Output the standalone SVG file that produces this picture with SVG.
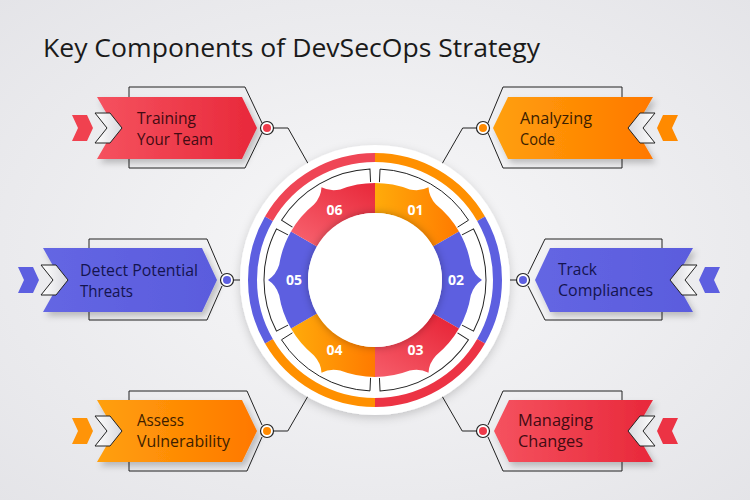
<svg xmlns="http://www.w3.org/2000/svg" width="750" height="500" viewBox="0 0 750 500">
<defs>
<radialGradient id="bg" cx="50%" cy="50%" r="75%">
<stop offset="0" stop-color="#f8f8f9"/>
<stop offset="1" stop-color="#e3e3e7"/>
</radialGradient>
<linearGradient id="redBox" x1="0" y1="0" x2="1" y2="0"><stop offset="0" stop-color="#f5525f"/><stop offset="1" stop-color="#e8283a"/></linearGradient>
<linearGradient id="orangeBox" x1="0" y1="0" x2="1" y2="0"><stop offset="0" stop-color="#ffa00b"/><stop offset="1" stop-color="#ff7800"/></linearGradient>
<linearGradient id="blueBox" x1="0" y1="0" x2="1" y2="0"><stop offset="0" stop-color="#6466e3"/><stop offset="1" stop-color="#5a5cdd"/></linearGradient>
<linearGradient id="chev" x1="0" y1="0" x2="1" y2="0"><stop offset="0" stop-color="#ffffff"/><stop offset="1" stop-color="#d9d9de"/></linearGradient>
<linearGradient id="chevR" x1="1" y1="0" x2="0" y2="0"><stop offset="0" stop-color="#ffffff"/><stop offset="1" stop-color="#d9d9de"/></linearGradient>
<linearGradient id="segOrA" x1="0" y1="0" x2="1" y2="0"><stop offset="0" stop-color="#ffab0a"/><stop offset="1" stop-color="#ff7a00"/></linearGradient>
<linearGradient id="segOrB" x1="1" y1="0" x2="0" y2="0"><stop offset="0" stop-color="#ffab0a"/><stop offset="1" stop-color="#ff7a00"/></linearGradient>
<linearGradient id="segRdA" x1="0" y1="0" x2="1" y2="0"><stop offset="0" stop-color="#f65d6a"/><stop offset="1" stop-color="#e8283a"/></linearGradient>
<linearGradient id="segRdB" x1="1" y1="0" x2="0" y2="0"><stop offset="0" stop-color="#f65d6a"/><stop offset="1" stop-color="#e8283a"/></linearGradient>
<filter id="sh" x="-20%" y="-30%" width="140%" height="170%"><feDropShadow dx="3" dy="4" stdDeviation="3" flood-color="#000" flood-opacity="0.22"/></filter>
<filter id="discSh" x="-20%" y="-20%" width="140%" height="140%"><feDropShadow dx="0" dy="3" stdDeviation="5" flood-color="#000" flood-opacity="0.18"/></filter>
<filter id="innerSh" x="-30%" y="-30%" width="160%" height="160%"><feDropShadow dx="0" dy="0" stdDeviation="4" flood-color="#000" flood-opacity="0.3"/></filter>
<style>
.ol{fill:none;stroke:#222;stroke-width:1}
.cv{stroke:#222;stroke-width:1}
.lbl{font-family:"Open Sans","Noto Sans",sans-serif;font-size:16px}
.num{font-family:"Open Sans","Noto Sans",sans-serif;font-size:14px;font-weight:bold;fill:#fff;text-anchor:middle}
.dotO{fill:#fff;stroke:#222;stroke-width:1.2}
.con{fill:none;stroke:#222;stroke-width:1}
.br{fill:none;stroke:#222;stroke-width:1}
.ring{fill:none;stroke-width:9}
</style>
</defs>
<rect width="750" height="500" fill="url(#bg)"/>
<text x="43" y="57" font-family="'Open Sans','Noto Sans',sans-serif" font-size="26" fill="#1a1a1a" textLength="497" lengthAdjust="spacingAndGlyphs">Key Components of DevSecOps Strategy</text>

<g id="connectors">
<path class="con" d="M273.5,128 L288,128 L319.5,183.9"/>
<path class="con" d="M476.5,128 L462.7,128 L430.5,183.9"/>
<path class="con" d="M233.5,280 L264,280"/>
<path class="con" d="M516.5,280 L486,280"/>
<path class="con" d="M273.5,431 L287.8,431 L319.5,376.1"/>
<path class="con" d="M476.5,431 L462.2,431 L430.5,376.1"/>
</g>

<g id="hub">
<circle cx="375" cy="280" r="135" fill="#fff" filter="url(#discSh)"/>
<g id="outer-ring">
<path class="ring" stroke="#ff9000" d="M375,157.5 A122.5,122.5 0 0 1 481.09,218.75"/>
<path class="ring" stroke="#5d5fe0" d="M375,157.5 A122.5,122.5 0 0 1 481.09,218.75" transform="rotate(60 375 280)"/>
<path class="ring" stroke="#ec3344" d="M375,157.5 A122.5,122.5 0 0 1 481.09,218.75" transform="rotate(120 375 280)"/>
<path class="ring" stroke="#ff9000" d="M375,157.5 A122.5,122.5 0 0 1 481.09,218.75" transform="rotate(180 375 280)"/>
<path class="ring" stroke="#5d5fe0" d="M375,157.5 A122.5,122.5 0 0 1 481.09,218.75" transform="rotate(240 375 280)"/>
<path class="ring" stroke="#ef4555" d="M375,157.5 A122.5,122.5 0 0 1 481.09,218.75" transform="rotate(300 375 280)"/>
</g>
<g id="brackets">
<path class="br" d="M379.45,182.1 L380.04,169.11 A111,111 0 0 1 468.52,220.19 L457.57,227.2"/>
<path class="br" d="M379.45,182.1 L380.04,169.11 A111,111 0 0 1 468.52,220.19 L457.57,227.2" transform="rotate(60 375 280)"/>
<path class="br" d="M379.45,182.1 L380.04,169.11 A111,111 0 0 1 468.52,220.19 L457.57,227.2" transform="rotate(120 375 280)"/>
<path class="br" d="M379.45,182.1 L380.04,169.11 A111,111 0 0 1 468.52,220.19 L457.57,227.2" transform="rotate(180 375 280)"/>
<path class="br" d="M379.45,182.1 L380.04,169.11 A111,111 0 0 1 468.52,220.19 L457.57,227.2" transform="rotate(240 375 280)"/>
<path class="br" d="M379.45,182.1 L380.04,169.11 A111,111 0 0 1 468.52,220.19 L457.57,227.2" transform="rotate(300 375 280)"/>
</g>
<g id="seg-01"><path fill="url(#segOrA)" d="M375,213 L375,183 A97,97 0 0 1 409.77,189.44 Q419.95,191.79 428.5,187.34 Q428.92,196.97 436.04,204.62 A97,97 0 0 1 459,231.5 L433.02,246.5 A67,67 0 0 0 375,213 Z"/></g>
<g id="seg-02"><path fill="#5d5fe0" d="M375,213 L375,183 A97,97 0 0 1 409.77,189.44 Q419.95,191.79 428.5,187.34 Q428.92,196.97 436.04,204.62 A97,97 0 0 1 459,231.5 L433.02,246.5 A67,67 0 0 0 375,213 Z" transform="rotate(60 375 280)"/></g>
<g id="seg-03"><path fill="url(#segRdB)" d="M375,213 L375,183 A97,97 0 0 1 409.77,189.44 Q419.95,191.79 428.5,187.34 Q428.92,196.97 436.04,204.62 A97,97 0 0 1 459,231.5 L433.02,246.5 A67,67 0 0 0 375,213 Z" transform="rotate(120 375 280)"/></g>
<g id="seg-04"><path fill="url(#segOrB)" d="M375,213 L375,183 A97,97 0 0 1 409.77,189.44 Q419.95,191.79 428.5,187.34 Q428.92,196.97 436.04,204.62 A97,97 0 0 1 459,231.5 L433.02,246.5 A67,67 0 0 0 375,213 Z" transform="rotate(180 375 280)"/></g>
<g id="seg-05"><path fill="#5d5fe0" d="M375,213 L375,183 A97,97 0 0 1 409.77,189.44 Q419.95,191.79 428.5,187.34 Q428.92,196.97 436.04,204.62 A97,97 0 0 1 459,231.5 L433.02,246.5 A67,67 0 0 0 375,213 Z" transform="rotate(240 375 280)"/></g>
<g id="seg-06"><path fill="url(#segRdA)" d="M375,213 L375,183 A97,97 0 0 1 409.77,189.44 Q419.95,191.79 428.5,187.34 Q428.92,196.97 436.04,204.62 A97,97 0 0 1 459,231.5 L433.02,246.5 A67,67 0 0 0 375,213 Z" transform="rotate(300 375 280)"/></g>
<circle cx="375" cy="280" r="67" fill="#fff" filter="url(#innerSh)"/>
<text class="num" x="415.5" y="215">01</text>
<text class="num" x="456" y="285">02</text>
<text class="num" x="415.5" y="355">03</text>
<text class="num" x="334.5" y="355">04</text>
<text class="num" x="294" y="285">05</text>
<text class="num" x="334.5" y="215">06</text>
</g>

<g id="node-training">
<path class="ol" d="M262,133 L245,168 L129,168 L129,87 L245,87 L262,123"/>
<path fill="url(#redBox)" filter="url(#sh)" d="M97,97 L242,97 L257,128 L242,159 L97,159 L115,128 Z"/>
<path class="cv" fill="url(#chev)" d="M95,113 L110,113 L122,128 L110,143 L95,143 L107,128 Z"/>
<path fill="#f0414f" d="M72,115 L87,115 L93,128 L87,141 L72,141 L78,128 Z"/>
<circle class="dotO" cx="267" cy="128" r="6.5"/><circle cx="267" cy="128" r="4" fill="#ee3a4a"/>
<text class="lbl" fill="#420b12" x="137" y="124" textLength="59" lengthAdjust="spacingAndGlyphs">Training</text>
<text class="lbl" fill="#420b12" x="137" y="145" textLength="76" lengthAdjust="spacingAndGlyphs">Your Team</text>
</g>

<g id="node-detect">
<path class="ol" d="M222,286 L207,320 L89,320 L89,239 L207,239 L222,274"/>
<path fill="url(#blueBox)" filter="url(#sh)" d="M43,248 L202,248 L217,280 L202,312 L43,312 L61,280 Z"/>
<path class="cv" fill="url(#chev)" d="M41,265 L56,265 L68,280 L56,295 L41,295 L53,280 Z"/>
<path fill="#5d5fe0" d="M18,267 L33,267 L39,280 L33,293 L18,293 L24,280 Z"/>
<circle class="dotO" cx="227" cy="280" r="6.5"/><circle cx="227" cy="280" r="4" fill="#5d5fe0"/>
<text class="lbl" fill="#14144f" x="80" y="276" textLength="118" lengthAdjust="spacingAndGlyphs">Detect Potential</text>
<text class="lbl" fill="#14144f" x="80" y="297" textLength="53" lengthAdjust="spacingAndGlyphs">Threats</text>
</g>

<g id="node-assess">
<path class="ol" d="M262,437 L247,471 L129,471 L129,391 L247,391 L262,425"/>
<path fill="url(#orangeBox)" filter="url(#sh)" d="M97,400 L242,400 L257,431 L242,462 L97,462 L115,431 Z"/>
<path class="cv" fill="url(#chev)" d="M95,416 L110,416 L122,431 L110,446 L95,446 L107,431 Z"/>
<path fill="#ff9408" d="M72,418 L87,418 L93,431 L87,444 L72,444 L78,431 Z"/>
<circle class="dotO" cx="267" cy="431" r="6.5"/><circle cx="267" cy="431" r="4" fill="#ff8a00"/>
<text class="lbl" fill="#3d1e00" x="137" y="426" textLength="47" lengthAdjust="spacingAndGlyphs">Assess</text>
<text class="lbl" fill="#3d1e00" x="137" y="447" textLength="93" lengthAdjust="spacingAndGlyphs">Vulnerability</text>
</g>

<g id="node-analyzing">
<path class="ol" d="M488,123 L503,87 L622,87 L622,168 L503,168 L488,133"/>
<path fill="url(#orangeBox)" filter="url(#sh)" d="M493,128 L508,97 L653,97 L635,128 L653,159 L508,159 Z"/>
<path class="cv" fill="url(#chevR)" d="M655,113 L640,113 L628,128 L640,143 L655,143 L643,128 Z"/>
<path fill="#ff8a00" d="M678,115 L663,115 L657,128 L663,141 L678,141 L672,128 Z"/>
<circle class="dotO" cx="483" cy="128" r="6.5"/><circle cx="483" cy="128" r="4" fill="#ff8a00"/>
<text class="lbl" fill="#3d1e00" x="520" y="124" textLength="72" lengthAdjust="spacingAndGlyphs">Analyzing</text>
<text class="lbl" fill="#3d1e00" x="520" y="145" textLength="35" lengthAdjust="spacingAndGlyphs">Code</text>
</g>

<g id="node-track">
<path class="ol" d="M528,274 L545,239 L662,239 L662,320 L545,320 L528,286"/>
<path fill="url(#blueBox)" filter="url(#sh)" d="M535,280 L550,248 L693,248 L675,280 L693,312 L550,312 Z"/>
<path class="cv" fill="url(#chevR)" d="M697,265 L682,265 L670,280 L682,295 L697,295 L685,280 Z"/>
<path fill="#5d5fe0" d="M720,267 L705,267 L699,280 L705,293 L720,293 L714,280 Z"/>
<circle class="dotO" cx="523" cy="280" r="6.5"/><circle cx="523" cy="280" r="4" fill="#5d5fe0"/>
<text class="lbl" fill="#14144f" x="558" y="275" textLength="39" lengthAdjust="spacingAndGlyphs">Track</text>
<text class="lbl" fill="#14144f" x="558" y="296" textLength="95" lengthAdjust="spacingAndGlyphs">Compliances</text>
</g>

<g id="node-managing">
<path class="ol" d="M488,425 L503,391 L622,391 L622,471 L503,471 L488,437"/>
<path fill="url(#redBox)" filter="url(#sh)" d="M494,431 L509,400 L653,400 L635,431 L653,462 L509,462 Z"/>
<path class="cv" fill="url(#chevR)" d="M655,416 L640,416 L628,431 L640,446 L655,446 L643,431 Z"/>
<path fill="#ec3344" d="M678,418 L663,418 L657,431 L663,444 L678,444 L672,431 Z"/>
<circle class="dotO" cx="483" cy="431" r="6.5"/><circle cx="483" cy="431" r="4" fill="#ee3a4a"/>
<text class="lbl" fill="#420b12" x="518" y="426" textLength="75" lengthAdjust="spacingAndGlyphs">Managing</text>
<text class="lbl" fill="#420b12" x="518" y="447" textLength="65" lengthAdjust="spacingAndGlyphs">Changes</text>
</g>
</svg>
